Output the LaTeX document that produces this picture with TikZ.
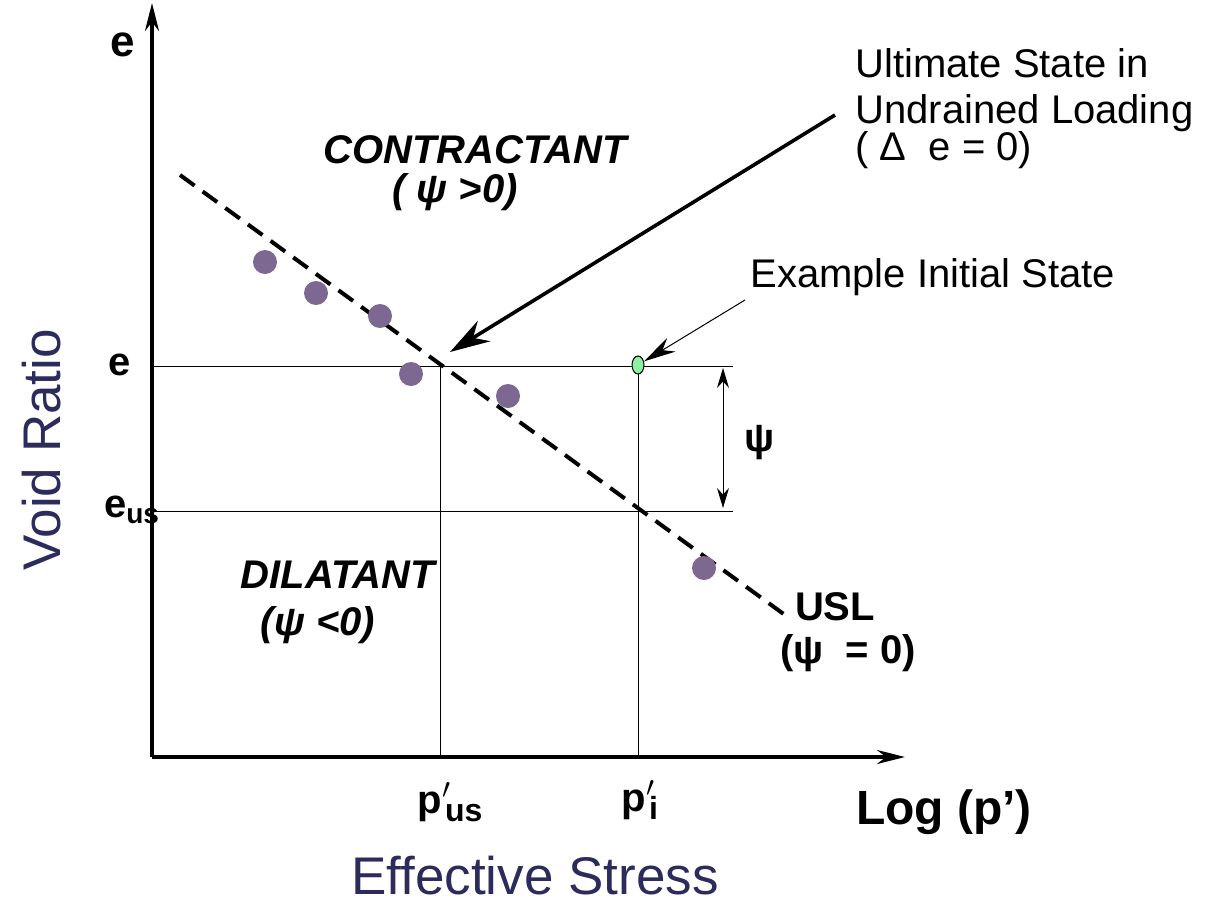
\documentclass[tikz,border=0pt]{standalone}
\usepackage{fontspec}
\setmainfont{Liberation Sans}
\usetikzlibrary{arrows.meta,shapes.geometric}
\definecolor{dotc}{HTML}{7C6890}
\definecolor{navy}{HTML}{2B2B5C}
\definecolor{lgreen}{HTML}{8CF0A0}
\tikzset{thin line/.style={line width=0.5pt},
 dot/.style={circle,fill=dotc,minimum size=12pt,inner sep=0},
 lab/.style={inner sep=0,font=\fontsize{20}{24}\selectfont},
 blab/.style={inner sep=0,font=\fontsize{20}{24}\selectfont\bfseries},
 bilab/.style={inner sep=0,font=\fontsize{20}{24}\selectfont\bfseries\itshape}}
\begin{document}
\begin{tikzpicture}[x=0.5pt,y=-0.5pt]
\useasboundingbox (0,0) rectangle (1217,911);
\coordinate (O) at (152,757);
\coordinate (Ytop) at (152,3);
\coordinate (Xend) at (905,757);
\draw[line width=1.8pt,-{Stealth[length=14,width=7]}] (O) -- (Ytop);
\draw[line width=1.8pt,-{Stealth[length=14,width=7]}] (O) -- (Xend);
% grid lines
\coordinate (h1a) at (152,366); \coordinate (h1b) at (733,366);
\coordinate (h2a) at (152,511); \coordinate (h2b) at (733,511);
\coordinate (v1a) at (440,366); \coordinate (v1b) at (440,757);
\coordinate (v2a) at (638,366); \coordinate (v2b) at (638,757);
\draw[thin line] (h1a)--(h1b) (h2a)--(h2b) (v1a)--(v1b) (v2a)--(v2b);
% USL
\coordinate (u1) at (180,175); \coordinate (u2) at (785,615);
\draw[line width=2pt,dash pattern=on 9pt off 5pt] (u1)--(u2);
% dots
\node[dot] (d1) at (265,262) {};
\node[dot] (d2) at (316,293) {};
\node[dot] (d3) at (380,316) {};
\node[dot] (d4) at (411,374) {};
\node[dot] (d5) at (508,396) {};
\node[dot] (d6) at (704,568) {};
\node[ellipse,draw,thin line,fill=lgreen,minimum width=6,minimum height=9,inner sep=0] (init) at (638,365) {};
% psi arrow
\coordinate (pa) at (723,368); \coordinate (pb) at (723,508);
\draw[thin line,{Stealth[length=10,width=6]}-{Stealth[length=10,width=6]}] (pa)--(pb);
\node[blab] (psi) at (760,443) {ψ};
% pointer arrows
\coordinate (a1) at (835,115); \coordinate (a1e) at (450,352);
\draw[line width=1.8pt,-{Stealth[length=20,width=12]}] (a1)--(a1e);
\coordinate (a2) at (745,300);
\draw[thin line,-{Stealth[length=16,width=8]}] (a2)--(init);
% texts
\node[lab,anchor=west] (t1) at (855,63) {Ultimate State in};
\node[lab,anchor=west] (t2) at (855,113) {Undrained Loading};
\node[lab,anchor=west] (t3) at (855,150) {( Δ~ e = 0)};
\node[lab,anchor=west] (t4) at (750,277) {Example Initial State};
\node[bilab] (c1) at (475,150) {CONTRACTANT};
\node[bilab] (c2) at (455,192) {( ψ >0)};
\node[bilab] (dl1) at (338,575) {DILATANT};
\node[bilab] (dl2) at (318,625) {(ψ <0)};
\node[blab] (usl) at (835,607) {USL};
\node[blab] (usl2) at (848,653) {(ψ~ = 0)};
\node[inner sep=0,font=\fontsize{22}{26}\selectfont\bfseries] (ey) at (123,45) {e};
\node[blab] (e1) at (120,365) {e};
\node[blab] (e2) at (132,510) {e\textsubscript{us}};
\node[blab] (p1) at (450,802) {p$'$\kern-3pt\raisebox{-4pt}{\fontsize{16}{16}\selectfont us}};
\node[blab] (p2) at (640,800) {p$'$\kern-3pt\raisebox{-4pt}{\fontsize{16}{16}\selectfont i}};
\node[inner sep=0,font=\fontsize{24}{28}\selectfont\bfseries] (log) at (944,812) {Log (p')};
\node[inner sep=0,font=\fontsize{26.5}{30}\selectfont,text=navy] (es) at (535,876) {Effective Stress};
\node[inner sep=0,font=\fontsize{26.5}{30}\selectfont,text=navy,rotate=90] (vr) at (42,450) {Void Ratio};
\end{tikzpicture}
\end{document}
